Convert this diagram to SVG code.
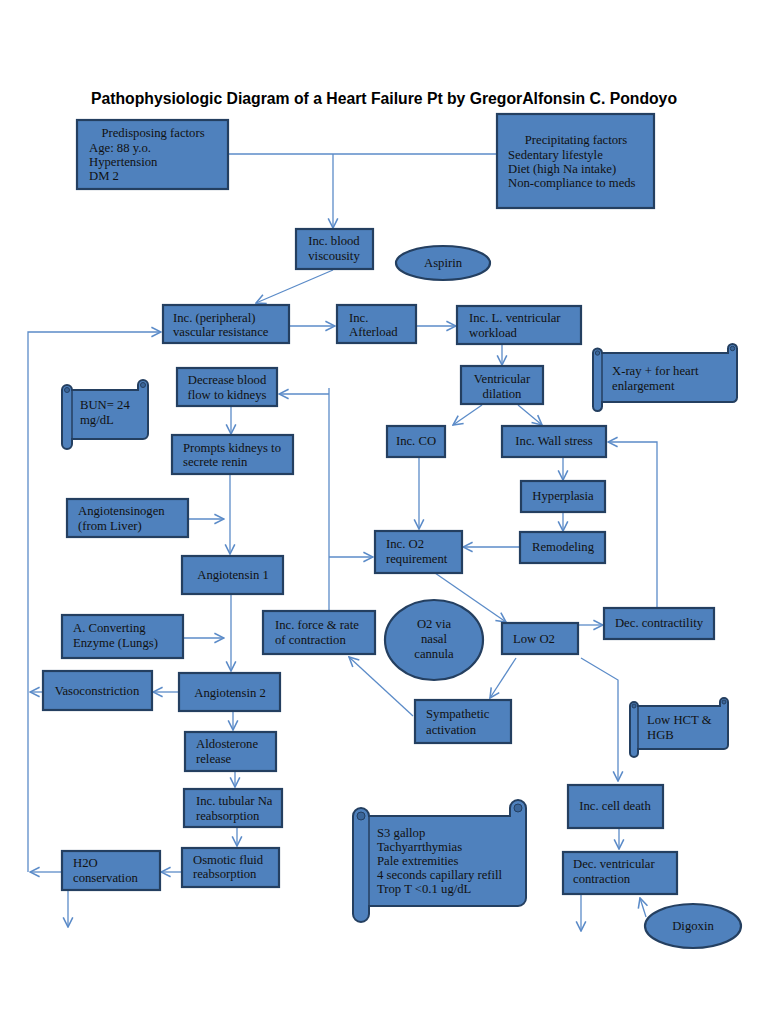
<svg xmlns="http://www.w3.org/2000/svg" width="768" height="1024" viewBox="0 0 768 1024">
<defs>
<style>
.box{fill:#4F81BD;stroke:#243F60;stroke-width:2.2}
.scr{fill:#4F81BD;stroke:#243F60;stroke-width:2}
.det{fill:none;stroke:#243F60;stroke-width:1.5}
.dot{fill:#3A6599;stroke:#243F60;stroke-width:1}
.t{font-family:"Liberation Serif","Times New Roman",serif;font-size:12.7px;fill:#111}
.m{text-anchor:middle}
.c{fill:none;stroke:#5B8BC8;stroke-width:1.3}
.title{font-family:"Liberation Sans",Arial,sans-serif;font-size:15.6px;font-weight:bold;fill:#000;text-anchor:middle}
</style>
<marker id="a" markerUnits="userSpaceOnUse" markerWidth="12" markerHeight="12" viewBox="0 0 10 10" refX="9" refY="5" orient="auto">
<path d="M1,1 L9,5 L1,9" fill="none" stroke="#5B8BC8" stroke-width="1.3"/>
</marker>
</defs>
<rect width="768" height="1024" fill="#fff"/>
<text class="title" x="384" y="104" textLength="586" lengthAdjust="spacingAndGlyphs">Pathophysiologic Diagram of a Heart Failure Pt by GregorAlfonsin C. Pondoyo</text>

<g id="connectors">
<line class="c" x1="228" y1="154" x2="497" y2="154"/>
<line class="c" x1="333" y1="154" x2="333" y2="228" marker-end="url(#a)"/>
<line class="c" x1="333" y1="270" x2="256" y2="303" marker-end="url(#a)"/>
<line class="c" x1="289" y1="326" x2="335" y2="326" marker-end="url(#a)"/>
<line class="c" x1="416" y1="326" x2="456" y2="326" marker-end="url(#a)"/>
<line class="c" x1="502" y1="344" x2="502" y2="365" marker-end="url(#a)"/>
<line class="c" x1="482" y1="405" x2="453" y2="425" marker-end="url(#a)"/>
<line class="c" x1="518" y1="405" x2="542" y2="425" marker-end="url(#a)"/>
<line class="c" x1="419" y1="457" x2="419" y2="529" marker-end="url(#a)"/>
<line class="c" x1="563" y1="457" x2="563" y2="480" marker-end="url(#a)"/>
<line class="c" x1="563" y1="512" x2="563" y2="531" marker-end="url(#a)"/>
<line class="c" x1="520" y1="547" x2="463" y2="547" marker-end="url(#a)"/>
<line class="c" x1="435" y1="573" x2="506" y2="622" marker-end="url(#a)"/>
<line class="c" x1="578" y1="625" x2="603" y2="625" marker-end="url(#a)"/>
<polyline class="c" points="657,608 657,442 608,442" marker-end="url(#a)"/>
<line class="c" x1="516" y1="658" x2="490" y2="698" marker-end="url(#a)"/>
<line class="c" x1="413" y1="716" x2="349" y2="657" marker-end="url(#a)"/>
<polyline class="c" points="581,658 618,680 618,781" marker-end="url(#a)"/>
<line class="c" x1="619" y1="828" x2="619" y2="849" marker-end="url(#a)"/>
<line class="c" x1="581" y1="894" x2="581" y2="931" marker-end="url(#a)"/>
<line class="c" x1="646" y1="917" x2="640" y2="898" marker-end="url(#a)"/>
<line class="c" x1="329" y1="611" x2="329" y2="388"/>
<line class="c" x1="329" y1="394" x2="279" y2="394" marker-end="url(#a)"/>
<line class="c" x1="329" y1="557" x2="373" y2="557" marker-end="url(#a)"/>
<line class="c" x1="231" y1="407" x2="231" y2="434" marker-end="url(#a)"/>
<line class="c" x1="230" y1="474" x2="230" y2="554" marker-end="url(#a)"/>
<line class="c" x1="188" y1="519" x2="224" y2="519" marker-end="url(#a)"/>
<line class="c" x1="231" y1="594" x2="231" y2="671" marker-end="url(#a)"/>
<line class="c" x1="183" y1="638" x2="224" y2="638" marker-end="url(#a)"/>
<line class="c" x1="179" y1="692" x2="153" y2="692" marker-end="url(#a)"/>
<line class="c" x1="43" y1="692" x2="30" y2="692" marker-end="url(#a)"/>
<polyline class="c" points="28,872 28,332 161,332" marker-end="url(#a)"/>
<line class="c" x1="233" y1="711" x2="233" y2="730" marker-end="url(#a)"/>
<line class="c" x1="235" y1="771" x2="235" y2="787" marker-end="url(#a)"/>
<line class="c" x1="237" y1="827" x2="237" y2="846" marker-end="url(#a)"/>
<line class="c" x1="182" y1="872" x2="161" y2="872" marker-end="url(#a)"/>
<line class="c" x1="62" y1="872" x2="30" y2="872" marker-end="url(#a)"/>
<line class="c" x1="68" y1="890" x2="68" y2="927" marker-end="url(#a)"/>
</g>

<g id="predisposing"><rect class="box" x="77" y="120" width="151" height="69"/>
<text class="t m" x="153" y="137">Predisposing factors</text>
<text class="t" x="89" y="152">Age: 88 y.o.</text>
<text class="t" x="89" y="166">Hypertension</text>
<text class="t" x="89" y="180">DM 2</text></g>

<g id="precipitating"><rect class="box" x="497" y="114" width="157" height="94"/>
<text class="t m" x="576" y="144">Precipitating factors</text>
<text class="t" x="508" y="159">Sedentary lifestyle</text>
<text class="t" x="508" y="173">Diet (high Na intake)</text>
<text class="t" x="508" y="187">Non-compliance to meds</text></g>

<g id="viscosity"><rect class="box" x="296" y="229" width="77" height="40"/>
<text class="t m" x="334" y="245">Inc. blood</text>
<text class="t m" x="334" y="260">viscousity</text></g>

<g id="aspirin"><ellipse class="box" cx="443" cy="263" rx="47" ry="17"/>
<text class="t m" x="443" y="267">Aspirin</text></g>

<g id="vascular"><rect class="box" x="163" y="305" width="126" height="38"/>
<text class="t" x="173" y="322">Inc. (peripheral)</text>
<text class="t" x="173" y="336">vascular resistance</text></g>

<g id="afterload"><rect class="box" x="337" y="305" width="79" height="38"/>
<text class="t" x="349" y="322">Inc.</text>
<text class="t" x="349" y="336">Afterload</text></g>

<g id="workload"><rect class="box" x="457" y="306" width="124" height="38"/>
<text class="t" x="469" y="322">Inc. L. ventricular</text>
<text class="t" x="469" y="337">workload</text></g>

<g id="xray"><path class="scr" d="M602,353 L728,353 L728,348.5 A4.5 4.5 0 0 1 737,348.5 L737,397.5 A4.5 4.5 0 0 1 732.5,402 L602,402 L602,406.5 A4.5 4.5 0 0 1 593,406.5 L593,353 A4.5 4.5 0 0 1 602,353 Z"/>
<path class="det" d="M602,353 V402"/><circle class="dot" cx="732.5" cy="348.5" r="2.2"/><circle class="dot" cx="597.5" cy="353" r="2.2"/>
<text class="t" x="612" y="375">X-ray + for heart</text>
<text class="t" x="612" y="390">enlargement</text></g>

<g id="dilation"><rect class="box" x="461" y="366" width="82" height="38"/>
<text class="t m" x="502" y="383">Ventricular</text>
<text class="t m" x="502" y="398">dilation</text></g>

<g id="bun"><path class="scr" d="M72,390 L138,390 L138,385 A5 5 0 0 1 148,385 L148,434 A5 5 0 0 1 143,439 L72,439 L72,444 A5 5 0 0 1 62,444 L62,390 A5 5 0 0 1 72,390 Z"/>
<path class="det" d="M72,390 V439"/><circle class="dot" cx="143" cy="385" r="2.5"/><circle class="dot" cx="67" cy="390" r="2.5"/>
<text class="t" x="80" y="409">BUN= 24</text>
<text class="t" x="80" y="424">mg/dL</text></g>

<g id="decrease"><rect class="box" x="177" y="368" width="100" height="38"/>
<text class="t m" x="227" y="384">Decrease blood</text>
<text class="t m" x="227" y="399">flow to kidneys</text></g>

<g id="co"><rect class="box" x="387" y="426" width="58" height="31"/>
<text class="t m" x="416" y="445">Inc. CO</text></g>

<g id="wallstress"><rect class="box" x="502" y="426" width="104" height="31"/>
<text class="t m" x="554" y="445">Inc. Wall stress</text></g>

<g id="renin"><rect class="box" x="172" y="435" width="121" height="39"/>
<text class="t" x="183" y="452">Prompts kidneys to</text>
<text class="t" x="183" y="466">secrete renin</text></g>

<g id="hyperplasia"><rect class="box" x="521" y="481" width="84" height="31"/>
<text class="t m" x="563" y="500">Hyperplasia</text></g>

<g id="angiotensinogen"><rect class="box" x="67" y="499" width="121" height="38"/>
<text class="t" x="78" y="515">Angiotensinogen</text>
<text class="t" x="78" y="530">(from Liver)</text></g>

<g id="o2req"><rect class="box" x="375" y="531" width="87" height="42"/>
<text class="t" x="386" y="548">Inc. O2</text>
<text class="t" x="386" y="563">requirement</text></g>

<g id="remodeling"><rect class="box" x="520" y="532" width="85" height="31"/>
<text class="t m" x="563" y="551">Remodeling</text></g>

<g id="ang1"><rect class="box" x="182" y="556" width="101" height="38"/>
<text class="t m" x="233" y="579">Angiotensin 1</text></g>

<g id="force"><rect class="box" x="263" y="611" width="112" height="43"/>
<text class="t" x="275" y="629">Inc. force &amp; rate</text>
<text class="t" x="275" y="644">of contraction</text></g>

<g id="ace"><rect class="box" x="62" y="615" width="121" height="43"/>
<text class="t" x="73" y="632">A. Converting</text>
<text class="t" x="73" y="647">Enzyme (Lungs)</text></g>

<g id="nasal"><ellipse class="box" cx="434" cy="640" rx="49" ry="40"/>
<text class="t m" x="434" y="628">O2 via</text>
<text class="t m" x="434" y="643">nasal</text>
<text class="t m" x="434" y="658">cannula</text></g>

<g id="lowo2"><rect class="box" x="502" y="623" width="76" height="31"/>
<text class="t" x="513" y="643">Low O2</text></g>

<g id="contractility"><rect class="box" x="604" y="608" width="110" height="31"/>
<text class="t m" x="659" y="627">Dec. contractility</text></g>

<g id="vasoconstriction"><rect class="box" x="43" y="671" width="109" height="39"/>
<text class="t m" x="97" y="695">Vasoconstriction</text></g>

<g id="ang2"><rect class="box" x="179" y="673" width="101" height="38"/>
<text class="t m" x="230" y="697">Angiotensin 2</text></g>

<g id="sympathetic"><rect class="box" x="415" y="700" width="96" height="43"/>
<text class="t" x="426" y="718">Sympathetic</text>
<text class="t" x="426" y="734">activation</text></g>

<g id="hct"><path class="scr" d="M638,706 L720,706 L720,702 A4 4 0 0 1 728,702 L728,745 A4 4 0 0 1 724,749 L638,749 L638,753 A4 4 0 0 1 630,753 L630,706 A4 4 0 0 1 638,706 Z"/>
<path class="det" d="M638,706 V749"/><circle class="dot" cx="724" cy="702" r="2"/><circle class="dot" cx="634" cy="706" r="2"/>
<text class="t" x="647" y="724">Low HCT &amp;</text>
<text class="t" x="647" y="739">HGB</text></g>

<g id="aldosterone"><rect class="box" x="185" y="732" width="91" height="39"/>
<text class="t" x="196" y="748">Aldosterone</text>
<text class="t" x="196" y="763">release</text></g>

<g id="tubular"><rect class="box" x="184" y="789" width="98" height="38"/>
<text class="t" x="196" y="805">Inc. tubular Na</text>
<text class="t" x="196" y="820">reabsorption</text></g>

<g id="celldeath"><rect class="box" x="568" y="785" width="95" height="43"/>
<text class="t m" x="615" y="810">Inc. cell death</text></g>

<g id="s3"><path class="scr" d="M369,816 L510,816 L510,808 A8 8 0 0 1 526,808 L526,898 A8 8 0 0 1 518,906 L369,906 L369,914 A8 8 0 0 1 353,914 L353,816 A8 8 0 0 1 369,816 Z"/>
<path class="det" d="M369,816 V906"/><circle class="dot" cx="518" cy="808" r="4"/><circle class="dot" cx="361" cy="816" r="4"/>
<text class="t" x="377" y="837">S3 gallop</text>
<text class="t" x="377" y="851">Tachyarrthymias</text>
<text class="t" x="377" y="865">Pale extremities</text>
<text class="t" x="377" y="879">4 seconds capillary refill</text>
<text class="t" x="377" y="893">Trop T &lt;0.1 ug/dL</text></g>

<g id="osmotic"><rect class="box" x="182" y="848" width="97" height="39"/>
<text class="t" x="193" y="864">Osmotic fluid</text>
<text class="t" x="193" y="878">reabsorption</text></g>

<g id="h2o"><rect class="box" x="62" y="851" width="98" height="39"/>
<text class="t" x="73" y="867">H2O</text>
<text class="t" x="73" y="882">conservation</text></g>

<g id="decventricular"><rect class="box" x="563" y="852" width="114" height="42"/>
<text class="t" x="573" y="868">Dec. ventricular</text>
<text class="t" x="573" y="883">contraction</text></g>

<g id="digoxin"><ellipse class="box" cx="693" cy="926" rx="48" ry="22"/>
<text class="t m" x="693" y="930">Digoxin</text></g>
</svg>
